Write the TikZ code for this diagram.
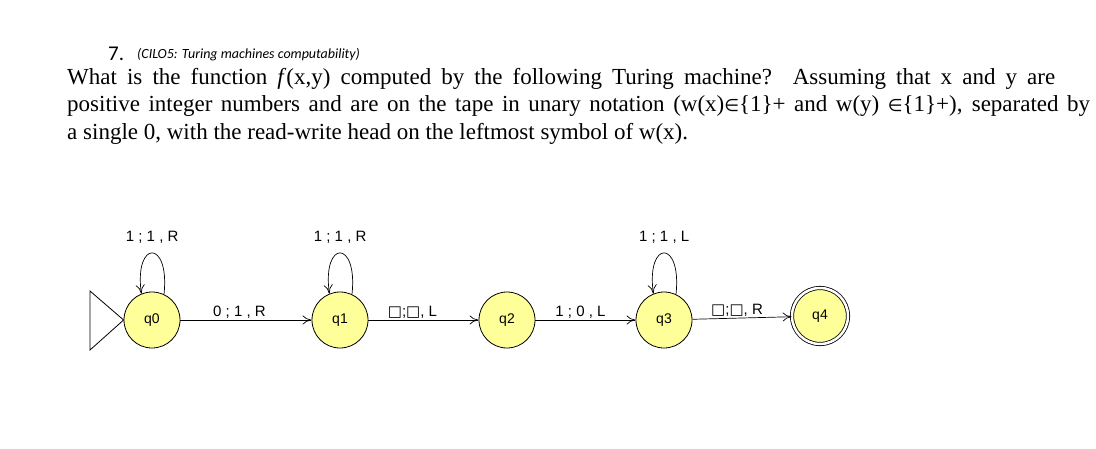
\documentclass[tikz,border=0pt]{standalone}
\usepackage{fontspec}
\setmainfont{Liberation Serif}
\newfontfamily\lsans{Liberation Sans}
\newfontfamily\carl{Carlito}
\newfontfamily\dvs{DejaVu Sans}
\usetikzlibrary{arrows.meta,decorations.pathmorphing}
\definecolor{stfill}{RGB}{255,255,153}
\newcommand{\bx}{{\dvs\char"25A1}}
\newcommand{\elem}{{\dvs\fontsize{17}{20}\selectfont ∈}}
\begin{document}
\begin{tikzpicture}[x=1pt,y=-1pt,
  st/.style={circle,draw,line width=0.8pt,fill=stfill,minimum size=56pt,inner sep=0pt,font=\lsans\fontsize{14}{16}\selectfont},
  tr/.style={draw,line width=0.7pt,-{To[length=9pt,width=9pt]}},
  lb/.style={font=\lsans\fontsize{15}{17}\selectfont,inner sep=1pt},
  ln/.style={anchor=base west,inner sep=0pt,font=\fontsize{23}{26}\selectfont}]
\useasboundingbox (0,0) rectangle (1096,448);
\node[anchor=base west,inner sep=0pt,font=\carl\fontsize{21}{24}\selectfont] (num) at (108,60) {7.};
\node[anchor=base west,inner sep=0pt,font=\carl\itshape\fontsize{14}{16}\selectfont] (cilo) at (137,58) {(CILO5: Turing machines computability)};
\node[ln] (l1) at (67,84) {\makebox[988pt][s]{What is the function \textit{f}(x,y) computed by the following Turing machine? Assuming that x and y are}};
\node[ln] (l2) at (67,111) {\makebox[1023pt][s]{positive integer numbers and are on the tape in unary notation (w(x)\elem\{1\}+ and w(y) \elem\{1\}+), separated by}};
\node[ln] (l3) at (67,139) {a single 0, with the read-write head on the leftmost symbol of w(x).};

\node[st] (q0) at (152,320) {q0};
\node[st] (q1) at (340,320) {q1};
\node[st] (q2) at (507,320) {q2};
\node[st] (q3) at (664,320) {q3};
\node[st,double,double distance=2.5pt] (q4) at (820,316) {q4};
\coordinate (ia) at (90,291);
\coordinate (ib) at (90,350);
\draw[line width=0.8pt] (ia) -- (q0.west) -- (ib) -- cycle;

\draw[tr] (q0) -- node[lb,above,pos=0.45]{0 ; 1 , R} (q1);
\draw[tr] (q1) -- node[lb,above,pos=0.4]{\bx;\bx, L} (q2);
\draw[tr] (q2) -- node[lb,above,pos=0.45]{1 ; 0 , L} (q3);
\draw[tr] (q3) -- node[lb,above,pos=0.45]{\bx;\bx, R} (q4);

\foreach \s/\t in {q0/{1 ; 1 , R},q1/{1 ; 1 , R},q3/{1 ; 1 , L}}{
  \draw[tr] (\s.65) .. controls ([xshift=6pt,yshift=55pt]\s.65) and ([xshift=-6pt,yshift=55pt]\s.115) .. node[lb,above=8pt]{\t} (\s.112);
}
\end{tikzpicture}
\end{document}
